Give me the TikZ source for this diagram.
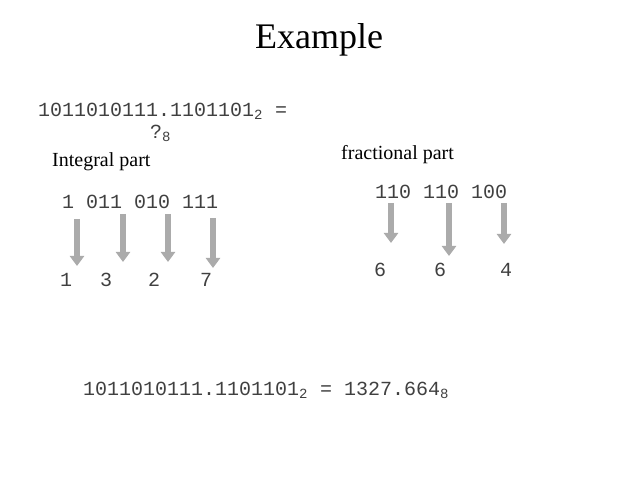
\documentclass[tikz,border=0pt]{standalone}
\usepackage{fontspec}
\setmainfont{Liberation Serif}
\setmonofont{Liberation Mono}
\usetikzlibrary{arrows.meta}
\begin{document}
\begin{tikzpicture}[x=1pt,y=-1pt,
  mono/.style={anchor=west,font=\fontsize{20}{22}\selectfont\ttfamily,text=black!75,inner sep=0},
  serif/.style={anchor=west,font=\fontsize{20}{22}\selectfont,inner sep=0},
  gar/.style={draw=black!33,line width=6pt,-{Triangle[width=14pt,length=10pt]}}]
\useasboundingbox (0,0) rectangle (638,478);
\node[font=\fontsize{36}{40}\selectfont] (t) at (319,40) {Example};
\node[mono] (q) at (38,111) {1011010111.1101101\textsubscript{2} =};
\node[mono] (q8) at (150,133) {?\textsubscript{8}};
\node[serif] (ip) at (52,162) {Integral part};
\node[serif] (fp) at (341,155) {fractional part};
\node[mono] (b1) at (62,202) {1 011 010 111};
\node[mono] (b2) at (375,192) {110 110 100};
\foreach \n/\x/\d in {o1/60/1,o2/100/3,o3/148/2,o4/200/7}
  \node[mono] (\n) at (\x,280) {\d};
\foreach \n/\x/\d in {f1/374/6,f2/434/6,f3/500/4}
  \node[mono] (\n) at (\x,270) {\d};
\foreach \n/\x/\a/\b in {a1/77/219/266,a2/123/214/262,a3/168/214/262,a4/213/218/268,
  a5/391/203/243,a6/449/203/256,a7/504/203/244}{
  \coordinate (\n s) at (\x,\a); \coordinate (\n e) at (\x,\b);
  \draw[gar] (\n s) -- (\n e);}
\node[mono] (ans) at (83,390) {1011010111.1101101\textsubscript{2} = 1327.664\textsubscript{8}};
\end{tikzpicture}
\end{document}
